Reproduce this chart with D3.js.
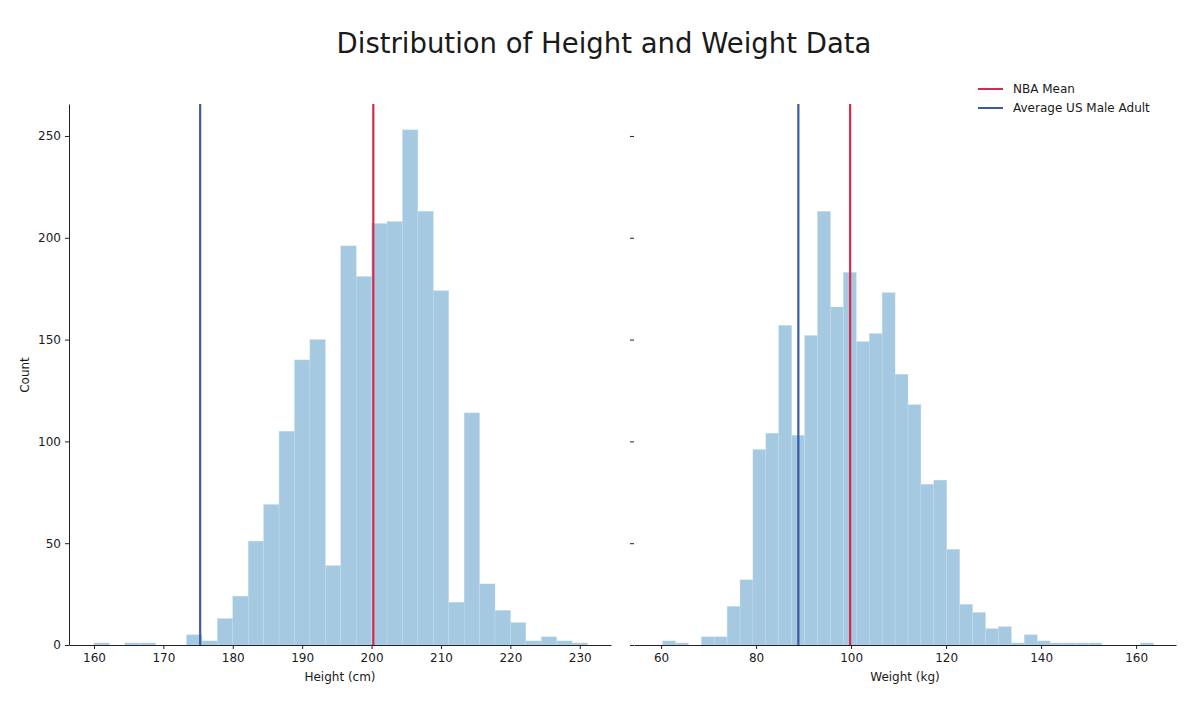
<!DOCTYPE html>
<html lang="en">
<head>
<meta charset="utf-8">
<title>Distribution of Height and Weight Data</title>
<script src="https://d3js.org/d3.v7.min.js"></script>
<style>
  body { margin: 0; background: #fff; }
  text { font-family: "DejaVu Sans", sans-serif; fill: #1a1a1a; }
</style>
</head>
<body>
<script>

// histogram data (equal width bins between min and max)
var heightRange = [160, 231.12];
var heightCounts = [1, 0, 1, 1, 0, 0, 5, 2, 13, 24, 51, 69, 105, 140, 150, 39, 196, 181, 207, 208,
                    253, 213, 174, 21, 114, 30, 17, 11, 2, 4, 2, 1];

var weightRange = [60.3, 163.66];
var weightCounts = [2, 1, 0, 4, 4, 19, 32, 96, 104, 157, 103, 152, 213, 166, 183, 149, 153, 173, 133, 118,
                    79, 81, 47, 20, 16, 8, 9, 1, 5, 2, 1, 1, 1, 1, 0, 0, 0, 1];

// reference lines
var lineNames = ["NBA Mean", "Average US Male Adult"];
var lineColors = ["#d62a4b", "#3a5aa6"];
var heightLines = [200.25, 175.3];
var weightLines = [99.8, 88.9];

var yTicks = [0, 50, 100, 150, 200, 250];
var heightTicks = [160, 170, 180, 190, 200, 210, 220, 230];
var weightTicks = [60, 80, 100, 120, 140, 160];

var W = 1200, H = 701;
var plotTop = 104, plotBottom = 645;
var fs = "12px";

var svg = d3.select("body")
  .append("svg")
    .attr("width", W)
    .attr("height", H);

var y = d3.scaleLinear().domain([0, 265.7]).range([plotBottom, plotTop]);

svg.append("text")
    .attr("x", 604)
    .attr("y", 53)
    .attr("text-anchor", "middle")
    .style("font-size", "27.5px")
    .text("Distribution of Height and Weight Data");

function panel(x0, x1, domain, range, counts, ticks, lines, label, showSpine) {
  var x = d3.scaleLinear().domain(domain).range([x0, x1]);
  var g = svg.append("g");
  var w = (range[1] - range[0]) / counts.length;

  g.selectAll("rect")
      .data(counts)
    .enter().append("rect")
      .attr("x", (d, i) => x(range[0] + i * w))
      .attr("width", (d, i) => x(range[0] + (i + 1) * w) - x(range[0] + i * w))
      .attr("y", d => y(d))
      .attr("height", d => plotBottom - y(d))
      .attr("fill", "#a5c9e1")
      .attr("stroke", "#c4dcec")
      .attr("stroke-width", 0.4);

  g.selectAll("line.ref")
      .data(lines)
    .enter().append("line")
      .attr("class", "ref")
      .attr("x1", d => x(d))
      .attr("x2", d => x(d))
      .attr("y1", plotTop)
      .attr("y2", plotBottom)
      .attr("stroke", (d, i) => lineColors[i])
      .attr("stroke-width", 2.2);

  var xa = g.append("g")
      .attr("transform", "translate(0," + plotBottom + ")")
      .call(d3.axisBottom(x).tickValues(ticks).tickSize(4).tickSizeOuter(0).tickPadding(4));
  xa.select(".domain").attr("stroke", "#222");
  xa.selectAll(".tick line").attr("stroke", "#222");
  xa.selectAll("text").style("font-size", fs).attr("fill", "#1a1a1a");

  var ya = g.append("g")
      .attr("transform", "translate(" + x0 + ",0)")
      .call(d3.axisLeft(y).tickValues(yTicks).tickSize(4).tickSizeOuter(0).tickPadding(4));
  ya.selectAll(".tick line").attr("stroke", "#222");
  ya.selectAll("text").style("font-size", fs).attr("fill", "#1a1a1a");
  if (showSpine) {
    ya.select(".domain").attr("stroke", "#222");
  } else {
    ya.select(".domain").remove();
    ya.selectAll("text").remove();
  }

  g.append("text")
      .attr("x", (x0 + x1) / 2)
      .attr("y", 681)
      .attr("text-anchor", "middle")
      .style("font-size", fs)
      .text(label);
}

panel(69, 611, [156.4, 234.5], heightRange, heightCounts, heightTicks, heightLines, "Height (cm)", true);
panel(634, 1176, [54.3, 168.4], weightRange, weightCounts, weightTicks, weightLines, "Weight (kg)", false);

svg.append("text")
    .attr("transform", "translate(29,375) rotate(-90)")
    .attr("text-anchor", "middle")
    .style("font-size", fs)
    .text("Count");

// legend
var leg = svg.append("g").selectAll("g")
    .data(lineNames)
  .enter().append("g")
    .attr("transform", (d, i) => "translate(978," + (89 + i * 19) + ")");

leg.append("line")
    .attr("x1", 0).attr("x2", 25)
    .attr("stroke", (d, i) => lineColors[i])
    .attr("stroke-width", 2);

leg.append("text")
    .attr("x", 35)
    .attr("y", 4)
    .style("font-size", fs)
    .text(d => d);

</script>
</body>
</html>
